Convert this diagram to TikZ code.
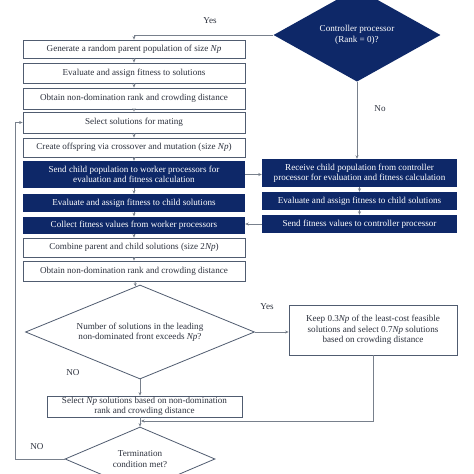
\documentclass[tikz,border=0pt]{standalone}
\usepackage{fontspec}
\setmainfont{Liberation Serif}
\usetikzlibrary{shapes.geometric,arrows.meta}

\begin{document}
\begin{tikzpicture}[x=1pt,y=-1pt,
	every node/.style={font=\fontsize{9.1}{10.4}\selectfont, align=center, inner sep=1pt},
	wbox/.style={draw=boxline, fill=white, text=txtcolor, line width=0.8pt, minimum width=222, minimum height=#1},
	wbox/.default=19,
	dbox/.style={fill=navy, text=white, minimum width=222, minimum height=#1},
	dbox/.default=18,
	rbox/.style={fill=navy, text=white, minimum width=195, minimum height=#1},
	rbox/.default=18,
	decision/.style={diamond, draw=boxline, fill=white, text=txtcolor, line width=0.8pt, inner sep=0pt, aspect=2.4},
	link/.style={draw=linecolor, line width=0.8pt, -{Stealth[length=3.5pt,width=3pt]}},
	lbl/.style={text=txtcolor}]
	% Define colors
	\definecolor{navy}{RGB}{14, 40, 104}
	\definecolor{boxline}{RGB}{80, 92, 112}
	\definecolor{linecolor}{RGB}{120, 128, 140}
	\definecolor{txtcolor}{RGB}{45, 50, 62}
	
	% Frame of the picture
	\clip (0,0) rectangle (474,474);
	\fill[white] (0,0) rectangle (474,474);
	
	% Controller check
	\node[diamond, fill=navy, text=white, inner sep=0pt, minimum width=167, minimum height=80] (ctrl) at (357,35) {Controller processor\\(Rank = 0)?};
	
	% Controller processor column
	\node[wbox=18] (gen) at (134,49) {Generate a random parent population of size \textit{Np}};
	\node[wbox=20] (evalp) at (134,73) {Evaluate and assign fitness to solutions};
	\node[wbox=21] (rank) at (134,98.5) {Obtain non-domination rank and crowding distance};
	\node[wbox=21] (mate) at (134,122.5) {Select solutions for mating};
	\node[wbox=19] (offs) at (134,147.5) {Create offspring via crossover and mutation (size \textit{Np})};
	\node[dbox=27] (send) at (134,174.5) {Send child population to worker processors for\\evaluation and fitness calculation};
	\node[dbox=18] (evalc) at (134,203) {Evaluate and assign fitness to child solutions};
	\node[dbox=17] (collect) at (134,225) {Collect fitness values from worker processors};
	\node[wbox=19] (comb) at (134,247.5) {Combine parent and child solutions (size 2\textit{Np})};
	\node[wbox=20] (rank2) at (134,271) {Obtain non-domination rank and crowding distance};
	
	% Worker processor column
	\node[rbox=28] (recv) at (359.5,173) {Receive child population from controller\\processor for evaluation and fitness calculation};
	\node[rbox=18] (evalw) at (359.5,201) {Evaluate and assign fitness to child solutions};
	\node[rbox=18] (sendfit) at (359.5,224) {Send fitness values to controller processor};
	
	% Selection of the next population
	\node[decision, minimum width=229, minimum height=94] (front) at (140,332) {Number of solutions in the leading\\non-dominated front exceeds \textit{Np}?};
	\node[wbox=50, minimum width=168] (keep) at (373,330) {Keep 0.3\textit{Np} of the least-cost feasible\\solutions and select 0.7\textit{Np} solutions\\based on crowding distance};
	\node[wbox=21, minimum width=195] (select) at (144.5,406.5) {Select \textit{Np} solutions based on non-domination\\rank and crowding distance};
	\node[decision, minimum width=150, minimum height=64] (term) at (140,459) {Termination\\condition met?};
	
	% Helper points
	\coordinate (merge) at (141,421);
	\coordinate (loop) at (15,459);
	
	% Arrows of the controller column
	\draw[link] (ctrl.west) -| (gen.north);
	\draw[link] (gen) -- (evalp);
	\draw[link] (evalp) -- (rank);
	\draw[link] (rank) -- (mate);
	\draw[link] (mate) -- (offs);
	\draw[link] (offs) -- (send);
	\draw[link] (send) -- (evalc);
	\draw[link] (evalc) -- (collect);
	\draw[link] (collect) -- (comb);
	\draw[link] (comb) -- (rank2);
	\draw[link] (rank2) -- (front);
	
	% Arrows of the worker column
	\draw[link] (ctrl.south) -- (ctrl.south |- recv.north);
	\draw[link] (recv) -- (evalw);
	\draw[link] (evalw) -- (sendfit);
	\draw[link] (send.east) -- (send.east -| recv.west);
	\draw[link] (sendfit.west) -- (sendfit.west -| collect.east);
	
	% Arrows of the selection
	\draw[link] (front.east) -- (front.east -| keep.west);
	\draw[link] (front.south) -- (front.south |- select.north);
	\draw[link] (term.north |- select.south) -- (term.north);
	\draw[link] (keep.south) |- (merge);
	\draw[link] (term.west) -- (loop) |- (mate.west);
	
	% Labels
	\node[lbl] (yes1) at (210,21) {Yes};
	\node[lbl] (no1) at (380,109) {No};
	\node[lbl] (yes2) at (267,307) {Yes};
	\node[lbl] (no2) at (73,373) {NO};
	\node[lbl] (no3) at (37,447) {NO};
\end{tikzpicture}
\end{document}
